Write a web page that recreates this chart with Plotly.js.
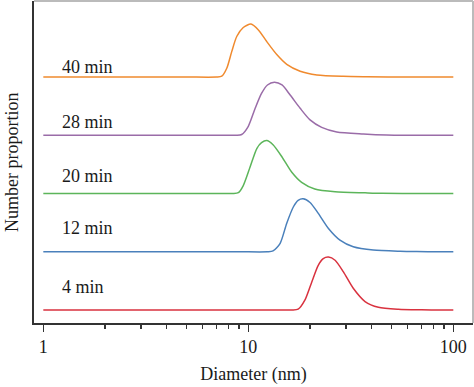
<!DOCTYPE html>
<html>
<head>
<meta charset="utf-8">
<script src="https://cdn.plot.ly/plotly-3.0.1.min.js"></script>
<style>html,body{margin:0;padding:0;background:#fff;}#chart{width:474px;height:387px;}</style>
</head>
<body>
<div id="chart"></div>
<script>
// Series names (bottom to top)
const seriesNames = ["4 min", "12 min", "20 min", "28 min", "40 min"];
// Diameters (nm) and normalized number proportion per series
const d4 = [1, 5, 12, 16.3, 17.5, 18.9, 20.4, 21.9, 23.2, 24.6, 26.5, 29.1, 32.5, 37.1, 43.1, 53.9, 70, 87.8, 100];
const p4 = [0, 0, 0, 0, 0.015, 0.19, 0.53, 0.84, 0.97, 1.0, 0.94, 0.72, 0.41, 0.16, 0.05, 0.013, 0.003, 0, 0];
const d12 = [1, 4, 9, 12.4, 13.2, 14.3, 15.4, 16.6, 17.5, 18.5, 20.0, 21.9, 24.6, 28.0, 32.5, 40.7, 55.0, 66.3, 85, 100];
const p12 = [0, 0, 0, 0, 0.015, 0.16, 0.54, 0.85, 0.97, 1.0, 0.93, 0.73, 0.44, 0.22, 0.095, 0.032, 0.01, 0.004, 0, 0];
const d20 = [1, 3, 6.5, 8.4, 8.94, 9.45, 10.2, 11.0, 11.6, 12.3, 13.2, 14.6, 16.3, 18.2, 21.1, 26.5, 37.1, 44.8, 70, 100];
const p20 = [0, 0, 0, 0, 0.015, 0.15, 0.5, 0.85, 0.96, 1.0, 0.92, 0.69, 0.40, 0.21, 0.085, 0.033, 0.013, 0.004, 0, 0];
const d28 = [1, 3, 6.5, 8.7, 9.28, 10.0, 10.8, 11.6, 12.4, 13.4, 14.6, 16.0, 17.9, 20.0, 22.8, 27.0, 36.4, 47.3, 70, 100];
const p28 = [0, 0, 0, 0, 0.015, 0.17, 0.51, 0.79, 0.95, 1.0, 0.95, 0.76, 0.51, 0.29, 0.15, 0.064, 0.026, 0.006, 0, 0];
const d40 = [1, 2.5, 5, 7.0, 7.42, 7.85, 8.30, 8.78, 9.45, 10.3, 11.2, 12.3, 13.8, 15.4, 17.9, 21.6, 29.0, 37.8, 60, 100];
const p40 = [0, 0, 0, 0, 0.015, 0.165, 0.48, 0.765, 0.935, 1.0, 0.89, 0.67, 0.42, 0.24, 0.11, 0.04, 0.013, 0.006, 0, 0];
// vertical offset of each curve (stacked display)
const offsets = [0, 1.1, 2.2, 3.3, 4.4];
// x tick labels
const xTickVals = [1, 10, 100];
const xTickText = ["1", "10", "100"];
const xMinorVals = [2,3,4,5,6,7,8,9,20,30,40,50,60,70,80,90];

const colors = ["#d9323f", "#4a80bb", "#5cb55a", "#9a6ca8", "#f08a2e"];
const labelY = [0.44, 1.543, 2.536, 3.545, 4.59];

const xs = [d4, d12, d20, d28, d40];
const ps = [p4, p12, p20, p28, p40];
const font = "'Liberation Serif', 'Times New Roman', serif";

const traces = xs.map((x, i) => ({
  type: "scatter", mode: "lines",
  x: x, y: ps[i].map(v => v + offsets[i]),
  line: {color: colors[i], width: 1.5, shape: "spline", smoothing: 0.7},
  name: seriesNames[i], hoverinfo: "skip"
}));

const annotations = seriesNames.map((n, i) => ({
  x: 0.081, y: labelY[i], xref: "x", yref: "y", text: n, showarrow: false,
  xanchor: "left", yanchor: "middle", font: {family: font, size: 18, color: "#1a1a1a"}
}));
annotations.push({
  x: -0.0501, y: 0.497, xref: "paper", yref: "paper", text: "Number proportion",
  textangle: -90, showarrow: false, xanchor: "center", yanchor: "middle",
  font: {family: font, size: 18, color: "#1a1a1a"}
});

const layout = {
  width: 474, height: 387,
  margin: {l: 34, r: 1, t: 1, b: 64},
  paper_bgcolor: "#fff", plot_bgcolor: "#fff",
  showlegend: false,
  font: {family: font, size: 18, color: "#1a1a1a"},
  xaxis: {
    type: "log", range: [-0.0454, 2.096],
    tickmode: "array", tickvals: xTickVals, ticktext: xTickText,
    ticks: "outside", ticklen: 7, tickwidth: 1.3, tickcolor: "#333",
    minor: {tickmode: "array", tickvals: xMinorVals, ticks: "outside", ticklen: 4, tickwidth: 1.3, tickcolor: "#333", showgrid: false},
    showgrid: false, zeroline: false, showline: true, linecolor: "#333", linewidth: 1.6,
    tickfont: {family: font, size: 18, color: "#1a1a1a"},
    title: {text: "Diameter (nm)", font: {family: font, size: 18, color: "#1a1a1a"}, standoff: 11}
  },
  yaxis: {
    range: [-0.2455, 5.836], showticklabels: false, ticks: "", showgrid: false, zeroline: false,
    showline: true, linecolor: "#333", linewidth: 1.6
  },
  shapes: [
    {type: "line", xref: "paper", yref: "paper", x0: 0, x1: 1, y0: 1, y1: 1, line: {color: "#bbbbbb", width: 2}},
    {type: "line", xref: "paper", yref: "paper", x0: 1, x1: 1, y0: 0, y1: 1, line: {color: "#bbbbbb", width: 2}}
  ],
  annotations: annotations
};

Plotly.newPlot("chart", traces, layout, {displayModeBar: false, staticPlot: true});
</script>
</body>
</html>
